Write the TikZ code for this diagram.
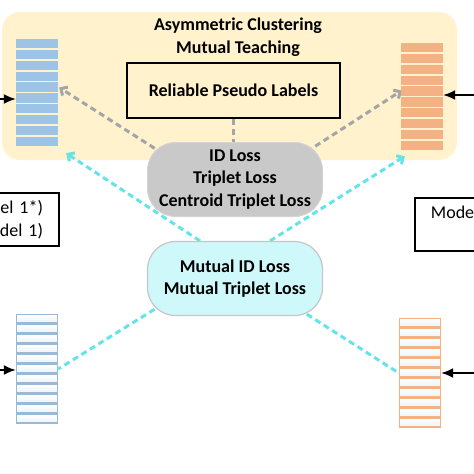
\documentclass[tikz,border=0pt]{standalone}
\usepackage{fontspec}
\setmainfont{Carlito}
\usetikzlibrary{positioning}
\usetikzlibrary{arrows.meta}
\usetikzlibrary{calc}
\usetikzlibrary{backgrounds}
\definecolor{panelyellow}{RGB}{255,242,204}
\definecolor{barblue}{RGB}{157,195,230}
\definecolor{barorange}{RGB}{244,177,131}
\definecolor{lossgray}{RGB}{201,201,201}
\definecolor{mutualcyan}{RGB}{207,248,251}
\definecolor{dashgray}{RGB}{165,165,168}
\definecolor{dashcyan}{RGB}{100,228,232}
\begin{document}
\begin{tikzpicture}[x=1pt,y=-1pt,
  lbl/.style={font=\fontsize{18}{22.5}\selectfont\bfseries, align=center},
  plain/.style={font=\fontsize{18}{22.5}\selectfont},
  blackbox/.style={draw, line width=2.6pt, inner sep=0pt},
  lossbox/.style={rounded corners=28pt, minimum width=175pt, minimum height=74pt, lbl},
  stack/.style={inner sep=0pt, minimum width=42pt, minimum height=#1},
  feed/.style={line width=1.8pt, -{Latex[length=12pt,width=10pt]}},
  graydash/.style={dashgray, line width=3pt, dash pattern=on 6pt off 4pt},
  cyandash/.style={dashcyan, line width=3pt, dash pattern=on 6pt off 4pt},
  tip/.style={-{Straight Barb[length=5pt,width=10pt]}}]
  \clip (0,0) rectangle (474,474);
  \node[lbl] (title) at (238,37) {Asymmetric Clustering\\Mutual Teaching};
  \node[blackbox, lbl, minimum width=213pt, minimum height=55pt] (rel) at (233.5,90.5) {Reliable Pseudo Labels};
  \node[lossbox, fill=lossgray, draw=lossgray!80!white, line width=1pt] (loss) at (235,179.5) {ID Loss\\Triplet Loss\\Centroid Triplet Loss};
  \node[lossbox, fill=mutualcyan, draw=gray!45, line width=1.2pt] (mutual) at (235,278.5) {Mutual ID Loss\\Mutual Triplet Loss};
  \node[stack=109pt] (tl) at (37,93.5) {};
  \node[stack=109pt] (tr) at (422,97.5) {};
  \node[stack=110pt] (bl) at (37,369) {};
  \node[stack=110pt] (br) at (420,373) {};
  \foreach \i in {0,...,9} {
    \fill[barblue] ($(tl.north west)+(0,\i*10.9)$) rectangle ++(42,9.2);
    \fill[barorange] ($(tr.north west)+(0,\i*10.9)$) rectangle ++(42,9.2);
  }
  \foreach \i in {0,...,10} {
    \draw[barblue!85!gray, line width=1.2pt, top color=white, bottom color=barblue!20]
      ($(bl.north west)+(0.6,\i*10+0.6)$) rectangle ++(40.8,8.6);
    \draw[barorange, line width=1.2pt, top color=white, bottom color=barblue!20]
      ($(br.north west)+(0.6,\i*10+0.6)$) rectangle ++(40.8,8.6);
  }
  \node[blackbox, plain, minimum width=150pt, minimum height=53pt, text width=118pt,
        align=right, inner xsep=16pt] (meanbox) at (-16,219.5) {Model 1*)\\Model 1)};
  \node[blackbox, minimum width=150pt, minimum height=53pt] (modelbox) at (490,224.5) {};
  \node[plain, anchor=west, inner sep=0pt] (modeltext) at ($(modelbox.west)+(17,-12)$) {Model};
  \coordinate (inA) at (-2,99);
  \coordinate (inB) at (476,95);
  \coordinate (inC) at (-2,370);
  \coordinate (inD) at (476,373);
  \draw[feed] (inA) -- (inA -| tl.west);
  \draw[feed] (inB) -- (inB -| tr.east);
  \draw[feed] (inC) -- (inC -| bl.west);
  \draw[feed] (inD) -- (inD -| br.east);
  \begin{scope}[on background layer]
    \node[fill=panelyellow, rounded corners=18pt, minimum width=455pt, minimum height=148pt, inner sep=0pt] (panel) at (229.5,86) {};
    \draw[graydash] (rel.south) -- (rel.south |- loss.north);
    \draw[graydash, tip] ($(loss.center)+(-55,-15)$) -- ($(tl.east)+(1,-6)$);
    \draw[graydash, tip] ($(loss.center)+(55,-17)$) -- ($(tr.west)+(1,-7)$);
    \draw[cyandash, tip] ($(mutual.north)+(-35,0)$) -- ($(tl.south east)+(8,5)$);
    \draw[cyandash, tip] ($(mutual.north)+(35,0)$) -- ($(tr.south west)+(4,4)$);
    \draw[cyandash] ($(mutual.center)+(-55,15)$) -- (bl.east);
    \draw[cyandash] ($(mutual.center)+(55,25)$) -- (br.west);
  \end{scope}
\end{tikzpicture}
\end{document}
